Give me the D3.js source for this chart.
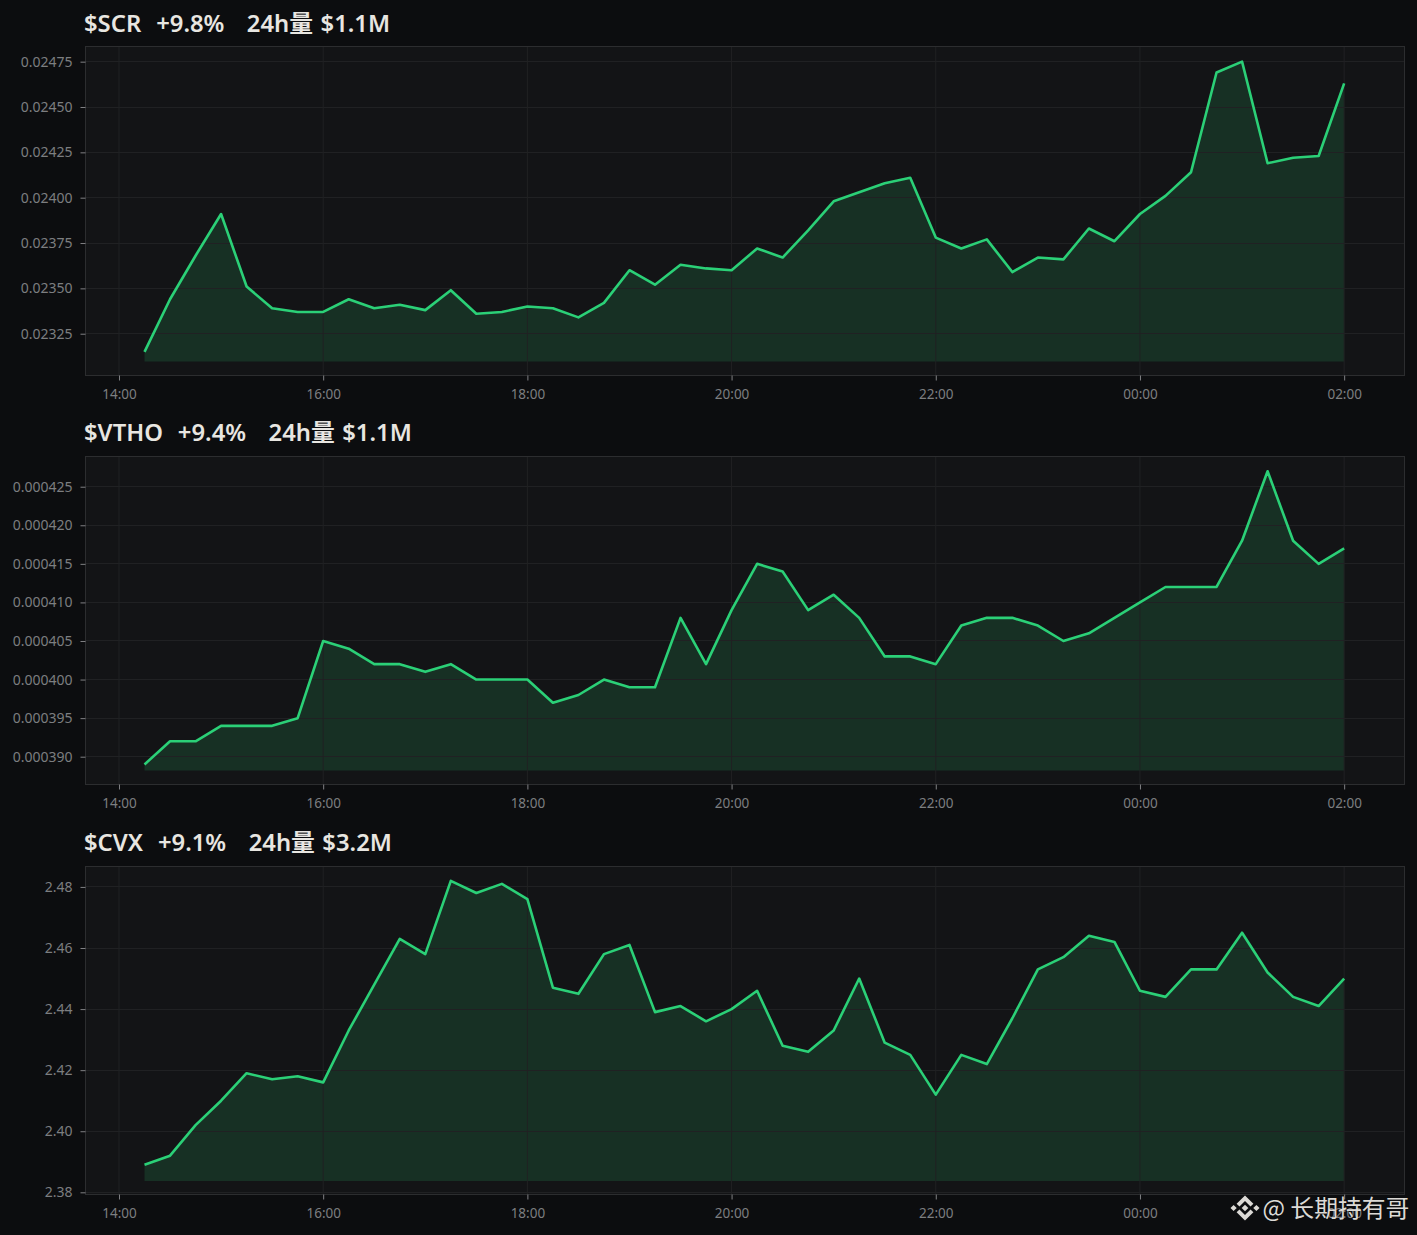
<!DOCTYPE html>
<html><head><meta charset="utf-8">
<script src="https://cdn.jsdelivr.net/npm/d3@7/dist/d3.min.js"></script>
<style>
html,body{margin:0;padding:0;background:#0c0d0f;}
svg{display:block;}
text{font-family:"Noto Sans","Noto Sans CJK SC",sans-serif;}
</style></head><body>
<svg id="c" width="1417" height="1235"></svg>
<script>
const tickHours = [0,2,4,6,8,10,12];
const tickLabels = ["14:00","16:00","18:00","20:00","22:00","00:00","02:00"];
const startHour = 0.25, stepHour = 0.25;

const titles = ["$SCR  +9.8%   24h量 $1.1M","$VTHO  +9.4%   24h量 $1.1M","$CVX  +9.1%   24h量 $3.2M"];

const scrValues = [0.02315,0.02344,0.02368,0.02391,0.02351,0.02339,0.02337,0.02337,0.02344,0.02339,0.02341,0.02338,0.02349,0.02336,0.02337,0.02340,0.02339,0.02334,0.02342,0.02360,0.02352,0.02363,0.02361,0.02360,0.02372,0.02367,0.02382,0.02398,0.02403,0.02408,0.02411,0.02378,0.02372,0.02377,0.02359,0.02367,0.02366,0.02383,0.02376,0.02391,0.02401,0.02414,0.02469,0.02475,0.02419,0.02422,0.02423,0.02463];
const vthoValues = [0.000389,0.000392,0.000392,0.000394,0.000394,0.000394,0.000395,0.000405,0.000404,0.000402,0.000402,0.000401,0.000402,0.000400,0.000400,0.000400,0.000397,0.000398,0.000400,0.000399,0.000399,0.000408,0.000402,0.000409,0.000415,0.000414,0.000409,0.000411,0.000408,0.000403,0.000403,0.000402,0.000407,0.000408,0.000408,0.000407,0.000405,0.000406,0.000408,0.000410,0.000412,0.000412,0.000412,0.000418,0.000427,0.000418,0.000415,0.000417];
const cvxValues = [2.389,2.392,2.402,2.410,2.419,2.417,2.418,2.416,2.433,2.448,2.463,2.458,2.482,2.478,2.481,2.476,2.447,2.445,2.458,2.461,2.439,2.441,2.436,2.440,2.446,2.428,2.426,2.433,2.450,2.429,2.425,2.412,2.425,2.422,2.437,2.453,2.457,2.464,2.462,2.446,2.444,2.453,2.453,2.465,2.452,2.444,2.441,2.450];

const scrTicks = [0.02325,0.02350,0.02375,0.02400,0.02425,0.02450,0.02475];
const vthoTicks = [0.000390,0.000395,0.000400,0.000405,0.000410,0.000415,0.000420,0.000425];
const cvxTicks = [2.38,2.40,2.42,2.44,2.46,2.48];

const scrDomain = [0.023024,0.024838];
const vthoDomain = [0.0003865,0.00042902];
const cvxDomain = [2.37955,2.48695];
const baselines = [0.023101,0.0003883,2.3839];

const panelsData = [
 {values:scrValues,ticks:scrTicks,domain:scrDomain,digits:5,top:46,bottom:375,titleY:32},
 {values:vthoValues,ticks:vthoTicks,domain:vthoDomain,digits:6,top:456,bottom:784,titleY:441},
 {values:cvxValues,ticks:cvxTicks,domain:cvxDomain,digits:2,top:866,bottom:1194,titleY:851}
];

const svg = d3.select("#c");
svg.append("rect").attr("width",1417).attr("height",1235).attr("fill","#0c0d0f");
const L=85.5,R=1404.5;
const x = d3.scaleLinear().domain([-0.328,12.591]).range([L,R]);

panelsData.forEach((p,pi)=>{
  const y = d3.scaleLinear().domain(p.domain).range([p.bottom-0.3,p.top-0.3]);
  const g = svg.append("g");
  g.append("rect").attr("x",L).attr("y",p.top+0.5).attr("width",R-L).attr("height",p.bottom-p.top).attr("fill","#131416");
  const hours = p.values.map((_,i)=>startHour+i*stepHour);
  const area = d3.area().x((d,i)=>x(hours[i])).y0(y(baselines[pi])+0.7).y1(d=>y(d));
  const line = d3.line().x((d,i)=>x(hours[i])).y(d=>y(d));
  g.append("path").datum(p.values).attr("d",area).attr("fill","#2ecc71").attr("fill-opacity",0.155);
  // grid above the fill
  g.append("g").selectAll("line").data(p.ticks).join("line")
    .attr("x1",L).attr("x2",R).attr("y1",d=>Math.floor(y(d))+0.5).attr("y2",d=>Math.floor(y(d))+0.5).attr("stroke","#202123").attr("stroke-width",1);
  g.append("g").selectAll("line").data(tickHours).join("line")
    .attr("y1",p.top).attr("y2",p.bottom).attr("x1",d=>x(d)).attr("x2",d=>x(d)).attr("stroke","#202123").attr("stroke-width",1);
  g.append("path").datum(p.values).attr("d",line).attr("fill","none").attr("stroke","#2bd077").attr("stroke-width",2.6).attr("stroke-linejoin","round");
  g.append("rect").attr("x",L).attr("y",p.top+0.5).attr("width",R-L).attr("height",p.bottom-p.top).attr("fill","none").attr("stroke","#2c2d2f").attr("stroke-width",1);
  const xScaleBottom = p.bottom+0.5;
  const xa = d3.axisBottom(x).tickValues(tickHours).tickFormat((d,i)=>tickLabels[i]).tickSize(5).tickPadding(9);
  const xg = g.append("g").attr("transform",`translate(0,${xScaleBottom})`).call(xa);
  const ya = d3.axisLeft(y).tickValues(p.ticks).tickFormat(d3.format("."+p.digits+"f")).tickSize(5).tickPadding(8);
  const yg = g.append("g").attr("transform",`translate(${L},0)`).call(ya);
  [xg,yg].forEach(a=>{
    a.select(".domain").remove();
    a.selectAll("line").attr("stroke","#808184");
    a.selectAll("text").attr("fill","#7c7e80").attr("font-size",14).style("font-family",'"Noto Sans",sans-serif');
  });
  xg.selectAll("text").attr("font-size",13.5);
  g.append("text").attr("x",84).attr("y",p.titleY).attr("fill","#e8e6e1").attr("font-size",23.8).attr("font-weight",600).attr("word-spacing",1.3).attr("xml:space","preserve").style("white-space","pre").text(titles[pi]);
});

// watermark
const wm = svg.append("g").attr("fill","#dcdad6");
const lg = wm.append("g").attr("transform","translate(1245,1208) scale(1.2)");
[[0,-9.5,5.5],[0,9.5,5.5],[-9.5,0,2.6],[9.5,0,2.6],[0,0,2.8]].forEach(([cx,cy,s])=>{
  if(s>5){
    const dir=cy<0?1:-1;
    lg.append("path").attr("d",`M-7,${dir*-3.5} L0,${dir*-10.5} L7,${dir*-3.5} L4.6,${dir*-1.2} L0,${dir*-5.8} L-4.6,${dir*-1.2} Z`);
  } else {
    lg.append("path").attr("d",`M${cx-s},${cy} L${cx},${cy-s} L${cx+s},${cy} L${cx},${cy+s} Z`);
  }
});
wm.append("text").attr("x",1262.5).attr("y",1217).attr("font-size",23.8).style("font-family",'"Noto Sans CJK SC",sans-serif').text("@ 长期持有哥");
</script>
</body></html>
